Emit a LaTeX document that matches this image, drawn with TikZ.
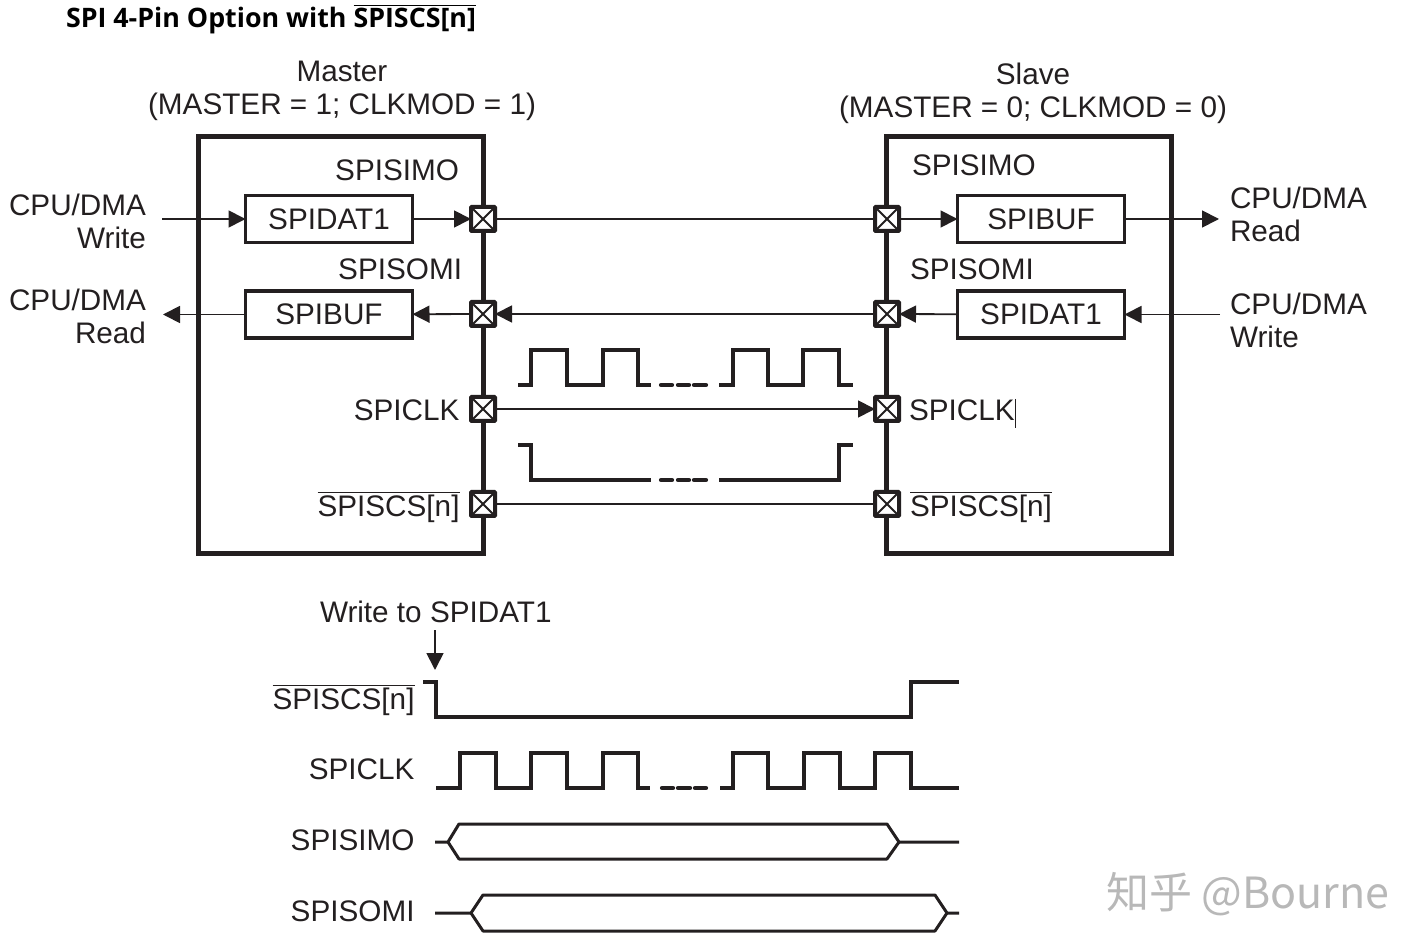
\documentclass[tikz,border=0pt]{standalone}
\usepackage{fontspec}
\setmainfont{Liberation Sans}
\newfontfamily\titlefont{Open Sans}
\newfontfamily\cjkfont{Noto Sans CJK SC}
\usetikzlibrary{arrows.meta}
\definecolor{ink}{HTML}{231F20}
\newcommand{\ovl}[1]{$\overline{\mbox{#1}}$}
\tikzset{
  x=0.5pt,y=-0.5pt,
  every node/.style={text=ink,font=\fontsize{14.85pt}{16pt}\selectfont,outer sep=0pt,inner sep=0pt},
  lbl/.style={anchor=base},
  lblr/.style={anchor=base east},
  lbll/.style={anchor=base west},
  chip/.style={draw=ink,line width=2.6pt,minimum width=142.5pt,minimum height=208.5pt},
  regbox/.style={draw=ink,line width=1.8pt,minimum width=83.5pt,minimum height=23.5pt},
  pin/.style={draw=ink,fill=white,line width=2pt,minimum size=12pt,rounded corners=0.4pt,
    path picture={\draw[ink,line width=0.9pt] (path picture bounding box.north west)--(path picture bounding box.south east)
      (path picture bounding box.south west)--(path picture bounding box.north east);}},
  wire/.style={draw=ink,line width=0.9pt},
  arr/.style={wire,-{Triangle[length=8.5pt,width=8.5pt]}},
  wave/.style={draw=ink,line width=2.1pt,line join=miter},
  wavedash/.style={draw=ink,line width=2.1pt,line cap=round},
  bus/.style={draw=ink,line width=1.5pt,line join=round},
}
\begin{document}
\begin{tikzpicture}
\useasboundingbox (0,0) rectangle (1424,951);
% title
\node[lbll,font=\titlefont\bfseries\fontsize{13.4pt}{15pt}\selectfont,text=black] (title) at (66,28) {SPI 4-Pin Option with \ovl{SPISCS[n]}};
% headers
\node[lbl] (mhead1) at (342,81.5) {Master};
\node[lbl] (mhead2) at (342,114.5) {(MASTER = 1; CLKMOD = 1)};
\node[lbl] (shead1) at (1033,84.5) {Slave};
\node[lbl] (shead2) at (1033,117.5) {(MASTER = 0; CLKMOD = 0)};
% chips
\node[chip] (master) at (341,345) {};
\node[chip] (slave) at (1029,345) {};
% registers
\node[regbox] (mdat) at (329,219) {SPIDAT1};
\node[regbox] (mbuf) at (329,314.5) {SPIBUF};
\node[regbox] (sbuf) at (1041,219) {SPIBUF};
\node[regbox] (sdat) at (1041,314.5) {SPIDAT1};
% pins
\node[pin] (mp1) at (483,219) {};
\node[pin] (mp2) at (483,314) {};
\node[pin] (mp3) at (483,409) {};
\node[pin] (mp4) at (483,504) {};
\node[pin] (sp1) at (887,219) {};
\node[pin] (sp2) at (887,314) {};
\node[pin] (sp3) at (887,409) {};
\node[pin] (sp4) at (887,504) {};
% pin labels
\node[lblr] (ml1) at (459,180.5) {SPISIMO};
\node[lblr] (ml2) at (462,279.5) {SPISOMI};
\node[lblr] (ml3) at (459.5,420.5) {SPICLK};
\node[lblr] (ml4) at (459.5,516.5) {\ovl{SPISCS[n]}};
\node[lbll] (sl1) at (912,175.5) {SPISIMO};
\node[lbll] (sl2) at (910,279.5) {SPISOMI};
\node[lbll] (sl3) at (909,421) {SPICLK};
\node[lbll] (sl4) at (910,516.5) {\ovl{SPISCS[n]}};
\draw[ink,line width=0.5pt] (1015,399) -- (1015,428);
% side labels
\node[lblr] (lw1) at (146,215.5) {CPU/DMA};
\node[lblr] (lw2) at (146,248.5) {Write};
\node[lblr] (lr1) at (146,310.5) {CPU/DMA};
\node[lblr] (lr2) at (146,343.5) {Read};
\node[lbll] (rr1) at (1230,208.5) {CPU/DMA};
\node[lbll] (rr2) at (1230,241.5) {Read};
\node[lbll] (rw1) at (1230,314.5) {CPU/DMA};
\node[lbll] (rw2) at (1230,347.5) {Write};
% free ends
\coordinate (cw) at (162,219);
\coordinate (cr) at (163,314.5);
\coordinate (cr2) at (1219,219);
\coordinate (cw2) at (1220,314.5);
% connectors
\draw[arr] (cw) -- (mdat);
\draw[arr] (mdat) -- (mp1);
\draw[wire] (mp1) -- (sp1);
\draw[arr] (sp1) -- (sbuf);
\draw[arr] (sbuf) -- (cr2);
\draw[arr] (cw2) -- (sdat);
\draw[arr] (sdat) -- (sp2);
\draw[arr] (sp2) -- (mp2);
\draw[arr] (mp2) -- (mbuf);
\draw[arr] (mbuf) -- (cr);
\draw[arr] (mp3) -- (sp3);
\draw[wire] (mp4) -- (sp4);
% upper clock
\draw[wave] (518,385) -- (531,385) -- (531,350) -- (567,350) -- (567,385) -- (603,385) -- (603,350) -- (638,350) -- (638,385) -- (651,385);
\draw[wave] (719,385) -- (733,385) -- (733,350) -- (768,350) -- (768,385) -- (803,385) -- (803,350) -- (839,350) -- (839,385) -- (853,385);
\draw[wavedash] (661,385) -- (672,385) (678,385) -- (689,385) (694,385) -- (706,385);
% upper cs
\draw[wave] (518,445) -- (531,445) -- (531,480) -- (651,480);
\draw[wave] (719,480) -- (839,480) -- (839,445) -- (853,445);
\draw[wavedash] (661,480) -- (672,480) (678,480) -- (689,480) (694,480) -- (706,480);
% timing
\node[lbll] (wr) at (320,622.5) {Write to SPIDAT1};
\coordinate (wa) at (435,630);
\coordinate (wb) at (435,670);
\draw[arr] (wa) -- (wb);
\node[lblr] (t1) at (414.5,709.5) {\ovl{SPISCS[n]}};
\node[lblr] (t2) at (414.5,779) {SPICLK};
\node[lblr] (t3) at (414.5,850) {SPISIMO};
\node[lblr] (t4) at (414.5,921) {SPISOMI};
\draw[wave] (423,682) -- (436,682) -- (436,717) -- (911,717) -- (911,682) -- (959,682);
\draw[wave] (436,788) -- (460,788) -- (460,753) -- (496,753) -- (496,788) -- (531,788) -- (531,753) -- (567,753) -- (567,788) -- (603,788) -- (603,753) -- (638,753) -- (638,788) -- (650,788);
\draw[wave] (720,788) -- (733,788) -- (733,753) -- (768,753) -- (768,788) -- (804,788) -- (804,753) -- (840,753) -- (840,788) -- (875,788) -- (875,753) -- (911,753) -- (911,788) -- (959,788);
\draw[wavedash] (662,788) -- (673,788) (678,788) -- (690,788) (695,788) -- (706,788);
\draw[bus] (435,842) -- (448,842) -- (459,824) -- (887,824) -- (899,842) -- (959,842);
\draw[bus] (448,842) -- (459,859) -- (887,859) -- (899,842);
\draw[bus] (435,913) -- (471,913) -- (483,895) -- (935,895) -- (947,913) -- (959,913);
\draw[bus] (471,913) -- (483,931) -- (935,931) -- (947,913);
% watermark
\node[anchor=base west,font=\cjkfont\fontsize{21.5pt}{23pt}\selectfont,text=black!28] (wm) at (1106,908) {知乎 @Bourne};
\end{tikzpicture}
\end{document}
